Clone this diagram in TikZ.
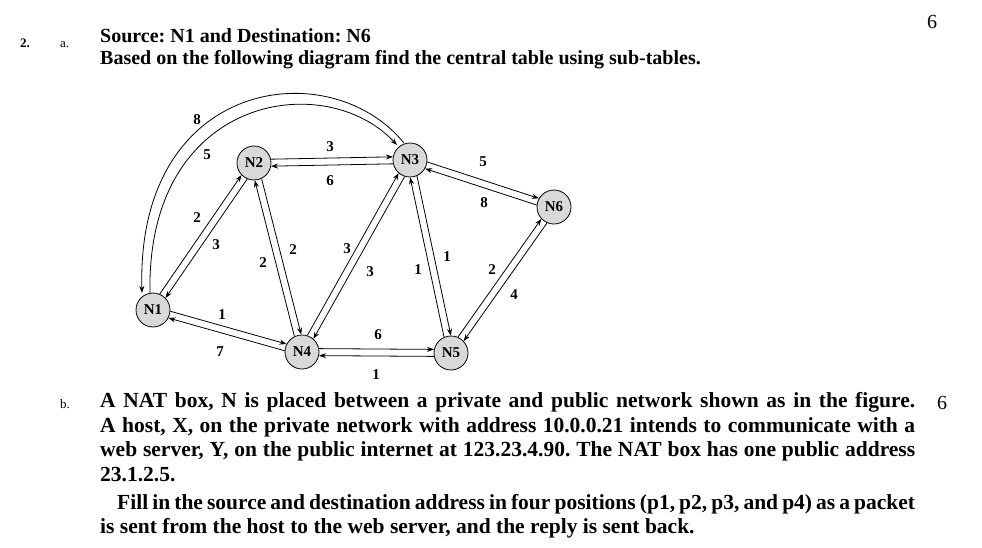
\documentclass[tikz,border=0pt]{standalone}
\usepackage{fontspec}
\setmainfont{Liberation Serif}
\usetikzlibrary{calc,arrows.meta}
\begin{document}
\frenchspacing
\begin{tikzpicture}[x=1pt,y=-1pt,
 nd/.style={circle,draw,thick,fill=gray!30,minimum size=34pt,inner sep=0pt,font=\bfseries\fontsize{15}{15}\selectfont},
 ar/.style={-{Stealth[length=7pt,width=5pt]},thick,shorten >=17pt,shorten <=17pt},
 lb/.style={font=\bfseries\fontsize{15}{15}\selectfont},
 tx/.style={anchor=base west,inner sep=0pt,font=\bfseries\fontsize{20}{25}\selectfont}]
\useasboundingbox (0,0) rectangle (982,547);
\node[nd] (N1) at (153,310) {N1};
\node[nd] (N2) at (254,163) {N2};
\node[nd] (N3) at (410,160) {N3};
\node[nd] (N6) at (554,207) {N6};
\node[nd] (N4) at (302,352) {N4};
\node[nd] (N5) at (451,353) {N5};
\newcommand{\pr}[2]{\draw[ar] ($(#1)!3.5pt!90:(#2)$) -- ($(#2)!3.5pt!-90:(#1)$);\draw[ar] ($(#2)!3.5pt!90:(#1)$) -- ($(#1)!3.5pt!-90:(#2)$);}
\pr{N1}{N2}\pr{N2}{N3}\pr{N2}{N4}\pr{N4}{N3}\pr{N3}{N5}\pr{N3}{N6}\pr{N5}{N6}\pr{N1}{N4}\pr{N4}{N5}
\coordinate (a1) at (142,293);\coordinate (a2) at (404,143);
\coordinate (b1) at (150,293);\coordinate (b2) at (397,145);
\draw[thick,{Stealth[length=7pt,width=5pt]}-] (a1) .. controls (136,78) and (330,52) .. (a2);
\draw[thick,-{Stealth[length=7pt,width=5pt]}] (b1) .. controls (146,95) and (325,68) .. (b2);
\foreach \t/\x/\y in {8/197/120,5/207/155,3/330/147,6/330/181,5/483/162,8/484/203,2/197/218,3/216/245,2/263/263,2/293/250,3/347/249,3/370/272,1/418/270,1/447/257,2/492/270,4/514/295,1/222/315,7/220/352,6/378/335,1/376/375}
 \node[lb] at (\x,\y) {\t};
\node[tx,font=\bfseries\fontsize{13}{13}\selectfont] (n2) at (20,47) {2.};
\node[tx,font=\fontsize{13}{13}\selectfont] (na) at (60,47) {a.};
\node[tx] (l1) at (100,42) {Source: N1 and Destination: N6};
\node[tx] (l2) at (100,64) {Based on the following diagram find the central table using sub-tables.};
\node[tx,font=\fontsize{20}{25}\selectfont] (s1) at (927,28) {6};
\node[tx,font=\fontsize{13}{13}\selectfont] (nb) at (60,408) {b.};
\node[tx,font=\fontsize{20}{25}\selectfont] (s2) at (937,409) {6};
\node[anchor=north west,inner sep=0pt,text width=815pt,align=justify,font=\bfseries\fontsize{21.5}{24.7}\selectfont] (pb) at (100,392) {A NAT box, N is placed between a private and public network shown as in the figure. A host, X, on the private network with address 10.0.0.21 intends to communicate with a web server, Y, on the public internet at 123.23.4.90. The NAT box has one public address 23.1.2.5.\par\vspace{3pt}\hspace*{17pt}Fill in the source and destination address in four positions (p1, p2, p3, and p4) as a packet is sent from the host to the web server, and the reply is sent back.};
\end{tikzpicture}
\end{document}
